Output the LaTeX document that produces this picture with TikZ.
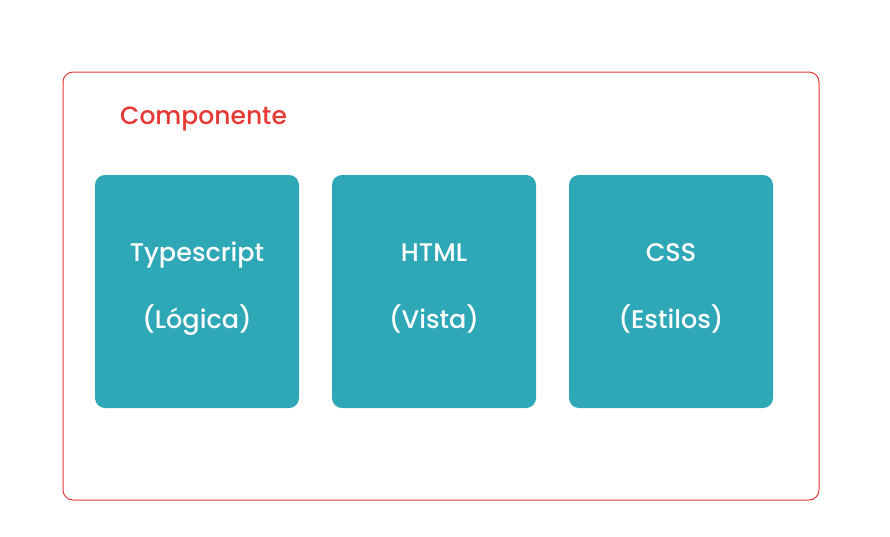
\documentclass[tikz,border=0pt]{standalone}
\usepackage{fontspec}
\setmainfont{Poppins}[UprightFont=* Medium]
\usetikzlibrary{positioning}
\definecolor{compred}{HTML}{E53935}
\definecolor{partteal}{HTML}{2EA7B7}
\tikzset{
	part/.style={fill=partteal, rounded corners=10pt, minimum width=204pt, minimum height=233pt, inner sep=0pt},
	parttext/.style={text=white, font=\fontsize{25.5}{30}\selectfont, anchor=base, inner sep=0pt}
}

\begin{document}
\begin{tikzpicture}[x=1pt, y=-1pt]
		
		\useasboundingbox (0,0) rectangle (890,536);
		
		%Container
		\draw[compred, line width=1pt, rounded corners=10pt] (63,72) rectangle (819,500);
		\node (compTitle) at(120,124) [anchor=base west, text=compred, font=\fontsize{25}{30}\selectfont, inner sep=0pt]{Componente};
		
		%Parts
		\node (tsBox) at(197,291.5) [part]{};
		\node (htmlBox) at(434,291.5) [part]{};
		\node (cssBox) at(671,291.5) [part]{};
		
		%Labels
		\node (tsName) at(197,261) [parttext]{Typescript};
		\node (tsRole) at(197,328) [parttext]{(Lógica)};
		\node (htmlName) at(434,261) [parttext]{HTML};
		\node (htmlRole) at(434,328) [parttext]{(Vista)};
		\node (cssName) at(671,261) [parttext]{CSS};
		\node (cssRole) at(671,328) [parttext]{(Estilos)};
		
\end{tikzpicture}
\end{document}
